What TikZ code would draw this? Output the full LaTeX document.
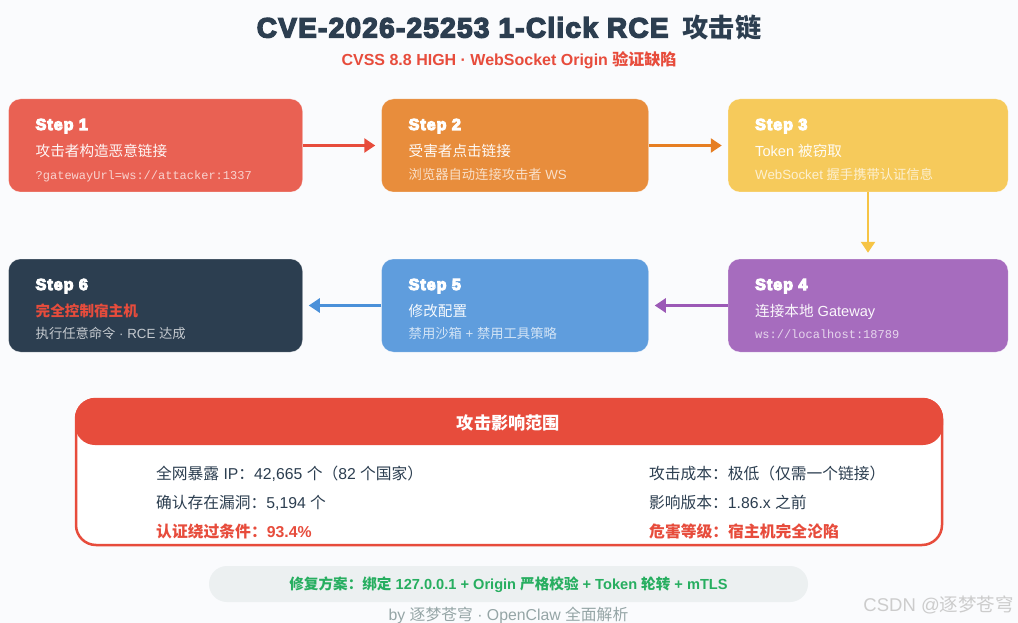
\documentclass[tikz,border=0pt]{standalone}
\usepackage{fontspec}
\setmainfont{Liberation Sans}
\setmonofont{Liberation Mono}
\newfontfamily\cjk{Noto Sans CJK SC}
\newfontfamily\heavy{Liberation Sans Bold}[FakeBold=5,LetterSpace=4.5]
\newfontfamily\heavystep{Liberation Sans Bold}[FakeBold=7,LetterSpace=6.5]
\newcommand\Zh[1]{{\cjk #1}}
\newcommand\Zb[1]{{\cjk\bfseries #1}}
\newcommand\fs[1]{\fontsize{#1}{#1}\selectfont}
\usetikzlibrary{arrows.meta}
\definecolor{bgc}{HTML}{FAFBFD}
\definecolor{ink}{HTML}{2C3E50}
\definecolor{redc}{HTML}{E74C3C}
\definecolor{orgc}{HTML}{E67E22}
\definecolor{yelc}{HTML}{F6C445}
\definecolor{purc}{HTML}{9B59B6}
\definecolor{bluc}{HTML}{4A90D9}
\definecolor{grnc}{HTML}{27AE60}
\definecolor{pillc}{HTML}{ECF0F1}
\definecolor{greyc}{HTML}{95A5A6}
\tikzset{
  x=1pt,y=-1pt,
  stepbox/.style={rectangle,rounded corners=12pt,minimum height=93pt,inner sep=0pt,fill opacity=.88,draw opacity=.35,draw=white,line width=.5pt},
  conn/.style={line width=2.5pt,shorten >=6pt,-{Triangle[length=11pt,width=14pt]}},
  txt/.style={inner sep=0pt,anchor=base west},
  steptitle/.style={txt,text=white,font=\heavystep\fs{16}},
  stepmain/.style={txt,text=white,text opacity=.95,font=\fs{14.6}},
  stepsub/.style={txt,text=white,text opacity=.72,font=\fs{13.3}},
  stepmono/.style={txt,text=white,text opacity=.72,font=\ttfamily\fs{12}},
  body/.style={txt,text=ink,font=\fs{15.75}},
  bodyred/.style={txt,text=redc,font=\bfseries\fs{15.8}},
}
\begin{document}
\begin{tikzpicture}
\useasboundingbox (0,0) rectangle (1018,623);
\fill[bgc] (0,0) rectangle (1018,623);
% title
\node[inner sep=0pt,anchor=base,text=ink,font=\heavy\fs{28}] (title) at (509,37.5) {CVE-2026-25253 1-Click RCE\hspace{-1pt} {\cjk\bfseries\fs{26.2} 攻击链}};
\node[inner sep=0pt,anchor=base,text=redc,font=\bfseries\fs{16}] (subtitle) at (509,66) {CVSS 8.8 HIGH · WebSocket Origin \Zb{验证缺陷}};
% steps
\node[stepbox,fill=redc,minimum width=294pt] (s1) at (155.5,145.5) {};
\node[stepbox,fill=orgc,minimum width=267pt] (s2) at (515,145.5) {};
\node[stepbox,fill=yelc,minimum width=280pt] (s3) at (868,145.5) {};
\node[stepbox,fill=purc,minimum width=280pt] (s4) at (868,305.5) {};
\node[stepbox,fill=bluc,minimum width=267pt] (s5) at (515,305.5) {};
\node[stepbox,fill=ink,fill opacity=1,minimum width=294pt] (s6) at (155.5,305.5) {};
% connectors
\draw[conn,redc] (s1.east) -- (s2.west);
\draw[conn,orgc] (s2.east) -- (s3.west);
\draw[conn,yelc] (s3.south) -- (s4.north);
\draw[conn,purc] (s4.west) -- (s5.east);
\draw[conn,bluc] (s5.west) -- (s6.east);
% step 1
\node[steptitle] (t1a) at (35.5,130) {Step 1};
\node[stepmain] (t1b) at (35.5,157) {\Zh{攻击者构造恶意链接}};
\node[stepmono] (t1c) at (35.5,179) {?gatewayUrl=ws://attacker:1337};
% step 2
\node[steptitle] (t2a) at (408.5,130) {Step 2};
\node[stepmain] (t2b) at (408.5,157) {\Zh{受害者点击链接}};
\node[stepsub] (t2c) at (408.5,179) {\Zh{浏览器自动连接攻击者} WS};
% step 3
\node[steptitle] (t3a) at (755,130) {Step 3};
\node[stepmain] (t3b) at (755,157) {Token \Zh{被窃取}};
\node[stepsub] (t3c) at (755,179) {WebSocket \Zh{握手携带认证信息}};
% step 4
\node[steptitle] (t4a) at (755,290) {Step 4};
\node[stepmain] (t4b) at (755,316.5) {\Zh{连接本地} Gateway};
\node[stepmono] (t4c) at (755,338) {ws://localhost:18789};
% step 5
\node[steptitle] (t5a) at (408.5,290) {Step 5};
\node[stepmain] (t5b) at (408.5,316.5) {\Zh{修改配置}};
\node[stepsub] (t5c) at (408.5,338) {\Zh{禁用沙箱} + \Zh{禁用工具策略}};
% step 6
\node[steptitle] (t6a) at (35.5,290) {Step 6};
\node[stepmain,text=redc,text opacity=1] (t6b) at (35.5,316.5) {\Zb{完全控制宿主机}};
\node[stepsub] (t6c) at (35.5,338) {\Zh{执行任意命令} · RCE \Zh{达成}};
% impact panel
\node[rectangle,rounded corners=20pt,draw=redc,line width=2.5pt,fill=white,minimum width=866pt,minimum height=146pt,inner sep=0pt] (panel) at (509,472) {};
\node[rectangle,rounded corners=20pt,fill=redc,minimum width=868pt,minimum height=47pt,inner sep=0pt] (phead) at (509,421.5) {};
\node[inner sep=0pt,anchor=base,text=white,font=\fs{17.2}] (phtxt) at (508.5,429) {\Zb{攻击影响范围}};
\node[body] (l1) at (156,479) {\Zh{全网暴露} IP\Zh{：}42,665 \Zh{个（}82 \Zh{个国家）}};
\node[body] (l2) at (156,508) {\Zh{确认存在漏洞：}5,194 \Zh{个}};
\node[bodyred] (l3) at (156,537) {\Zb{认证绕过条件：}93.4\%};
\node[body] (r1) at (649,479) {\Zh{攻击成本：极低（仅需一个链接）}};
\node[body] (r2) at (649,508) {\Zh{影响版本：}1.86.x \Zh{之前}};
\node[bodyred] (r3) at (649,537) {\Zb{危害等级：宿主机完全沦陷}};
% fix pill
\node[rectangle,rounded corners=18pt,fill=pillc,minimum width=599pt,minimum height=36pt,inner sep=0pt] (pill) at (508.5,584) {};
\node[inner sep=0pt,anchor=base,text=grnc,font=\bfseries\fs{14.6}] (fix) at (508.5,589.5) {\Zb{修复方案：绑定} 127.0.0.1 + Origin \Zb{严格校验} + Token \Zb{轮转} + mTLS};
% footer
\node[inner sep=0pt,anchor=base,text=greyc,font=\fs{15.8}] (foot) at (508.5,620.5) {by \Zh{逐梦苍穹} · OpenClaw \Zh{全面解析}};
\node[inner sep=0pt,anchor=base east,text=black!20,font=\fs{18.5}] (mark) at (1014,611.5) {CSDN @\Zh{逐梦苍穹}};
\end{tikzpicture}
\end{document}
